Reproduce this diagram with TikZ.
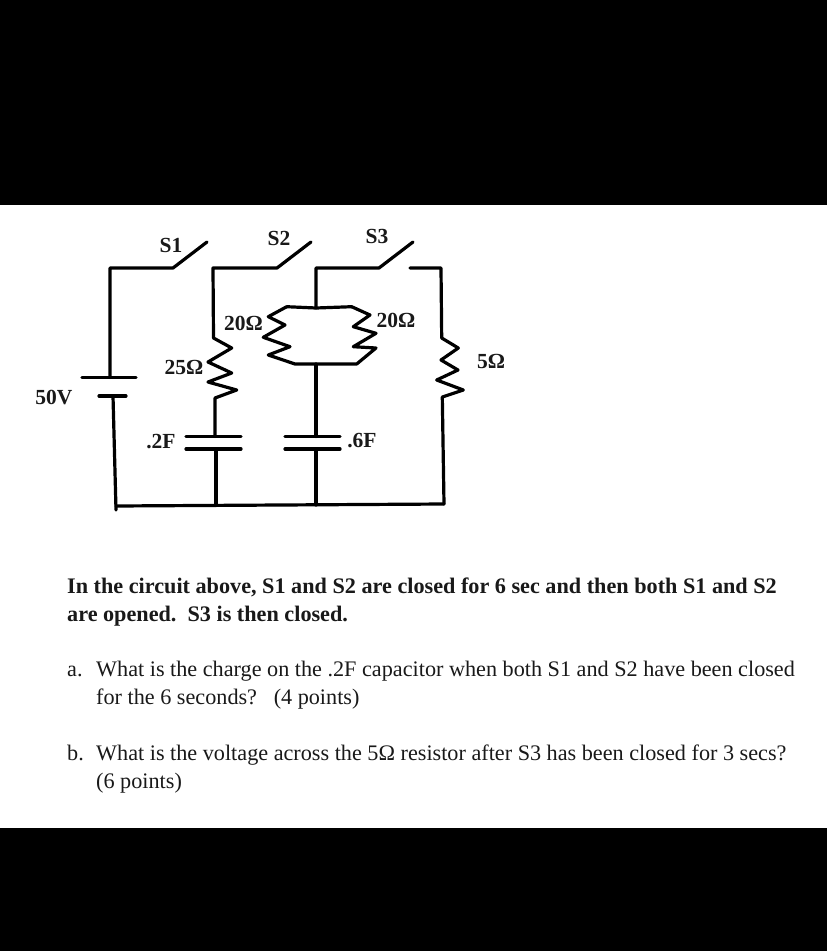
\documentclass[tikz,border=0pt]{standalone}
\usepackage{fontspec}
\setmainfont{Liberation Serif}
\begin{document}
\begin{tikzpicture}[x=1pt,y=-1pt,
  wire/.style={line width=3.2pt,line cap=round,line join=round,black},
  lab/.style={font=\fontsize{21.5}{21.5}\selectfont\bfseries,inner sep=0pt,text=black!90},
  para/.style={anchor=base west,inner sep=0pt,font=\fontsize{22.2}{22.2}\selectfont,text=black!90},
  bar/.style={fill=black,draw=none}]
\useasboundingbox (0,0) rectangle (827,951);
\fill[white] (0,0) rectangle (827,951);
\fill[bar] (0,0) rectangle (827,205);
\fill[bar] (0,828) rectangle (827,951);
% key points
\coordinate (tl) at (110,268);
\coordinate (h1) at (173,268);
\coordinate (b1) at (207,242);
\coordinate (c2) at (213,268);
\coordinate (h2) at (277,268);
\coordinate (b2) at (311,242);
\coordinate (c3) at (316,268);
\coordinate (h3) at (379,268);
\coordinate (b3) at (413,242);
\coordinate (c4) at (410,268);
\coordinate (tr) at (441,268);
\coordinate (batA) at (110,377.5);
\coordinate (batB) at (113,396);
\coordinate (bl) at (116,510);
\coordinate (br) at (444,504);
\coordinate (botL) at (116,506);
\coordinate (j2) at (216,505.5);
\coordinate (j3) at (316,505);
\coordinate (cA1) at (215,436.5);
\coordinate (cA2) at (216,449);
\coordinate (cB1) at (316,436.5);
\coordinate (cB2) at (316,449);
\coordinate (jt) at (316,308);
\coordinate (jb) at (316,364);
% left loop and switches
\draw[wire] (batA) -- (tl) -- (h1) -- (b1);
\draw[wire] (batB) -- (bl);
\draw[wire] (botL) -- (br);
\draw[wire] (82,377.5) -- (136,377.5);
\draw[wire] (99,396) -- (126,396);
\draw[wire] (b2) -- (h2) -- (c2) -- (213.5,338)
  -- (231.7,348) -- (208,362) -- (231.7,373) -- (208,382) -- (236.7,390) -- (215,398) -- (cA1);
\draw[wire] (186,436.5) -- (241,436.5);
\draw[wire] (186,449) -- (241,449);
\draw[wire] (cA2) -- (j2);
\draw[wire] (b3) -- (h3) -- (c3) -- (jt);
\draw[wire] (286.7,306.7) -- (jt) -- (351.7,306.7);
\draw[wire] (286.7,306.7) -- (268.3,316.7) -- (285,325) -- (263.3,337.3) -- (290,346.7) -- (268.3,355) -- (295,364) -- (356.7,364)
  -- (376,348) -- (353.3,346.7) -- (376,333.3) -- (353.3,326.7) -- (370,315) -- (351.7,306.7);
\draw[wire] (jb) -- (cB1);
\draw[wire] (285,436.5) -- (340,436.5);
\draw[wire] (285,449) -- (340,449);
\draw[wire] (cB2) -- (j3);
\draw[wire] (c4) -- (tr) -- (441.7,338) -- (458.3,348) -- (441,360) -- (458,370) -- (436.7,380) -- (463.3,390) -- (442.3,397) -- (br);
% labels
\node[lab] (s1) at (171,245) {S1};
\node[lab] (s2) at (279,238) {S2};
\node[lab] (s3) at (377,236) {S3};
\node[lab] (r1) at (243.5,323) {20Ω};
\node[lab] (r2) at (396,320) {20Ω};
\node[lab] (r3) at (184,367) {25Ω};
\node[lab] (r4) at (491,361) {5Ω};
\node[lab] (v) at (54,398) {50V};
\node[lab] (c1) at (161,442) {.2F};
\node[lab] (c2l) at (362,441) {.6F};
% text
\node[para,font=\fontsize{22.2}{22.2}\selectfont\bfseries] (t1) at (67,593) {In the circuit above, S1 and S2 are closed for 6 sec and then both S1 and S2};
\node[para,font=\fontsize{22.2}{22.2}\selectfont\bfseries] (t2) at (67,621) {are opened.\ \ S3 is then closed.};
\node[para] (t3) at (67,676) {a.};
\node[para] (t4) at (96,676) {What is the charge on the .2F capacitor when both S1 and S2 have been closed};
\node[para] (t5) at (96,704) {for the 6 seconds?\ \ \ (4 points)};
\node[para] (t6) at (67,760) {b.};
\node[para] (t7) at (96,760) {What is the voltage across the 5Ω resistor after S3 has been closed for 3 secs?};
\node[para] (t8) at (96,788) {(6 points)};
\end{tikzpicture}
\end{document}
